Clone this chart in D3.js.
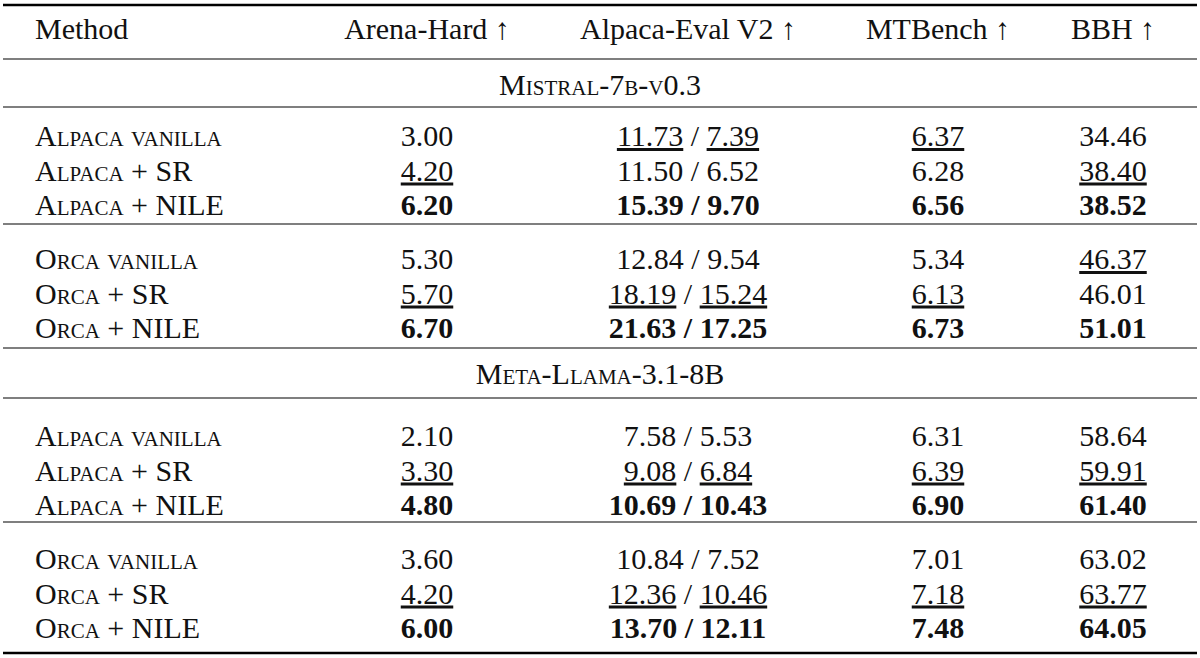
<!DOCTYPE html>
<html><head><meta charset="utf-8">
<script src="https://cdn.jsdelivr.net/npm/d3@7"></script>
<style>body{margin:0;background:#fff}text{font-family:"Liberation Serif","Times New Roman",serif;font-size:30px;fill:#111}</style>
</head><body><svg id="c" width="1200" height="658"></svg>
<script>
const columns = ["Method","Arena-Hard ↑","Alpaca-Eval V2 ↑","MTBench ↑","BBH ↑"];
const groups = ["Mistral-7b-v0.3","Meta-Llama-3.1-8B"];
const methods = ["Alpaca vanilla","Alpaca + SR","Alpaca + NILE","Orca vanilla","Orca + SR","Orca + NILE"];
const mistral = [
 ["3.00","11.73","7.39","6.37","34.46"],
 ["4.20","11.50","6.52","6.28","38.40"],
 ["6.20","15.39","9.70","6.56","38.52"],
 ["5.30","12.84","9.54","5.34","46.37"],
 ["5.70","18.19","15.24","6.13","46.01"],
 ["6.70","21.63","17.25","6.73","51.01"]];
const llama = [
 ["2.10","7.58","5.53","6.31","58.64"],
 ["3.30","9.08","6.84","6.39","59.91"],
 ["4.80","10.69","10.43","6.90","61.40"],
 ["3.60","10.84","7.52","7.01","63.02"],
 ["4.20","12.36","10.46","7.18","63.77"],
 ["6.00","13.70","12.11","7.48","64.05"]];
const mistralStyle = [
 ["","u","u","u",""],["u","","","","u"],["b","b","b","b","b"],
 ["","","","","u"],["u","u","u","u",""],["b","b","b","b","b"]];
const llamaStyle = [
 ["","","","",""],["u","u","u","u","u"],["b","b","b","b","b"],
 ["","","","",""],["u","u","u","u","u"],["b","b","b","b","b"]];

const svg = d3.select("#c");
const x = d3.scaleOrdinal().domain(columns).range([35,427,688,938,1113]);
const rowY = d3.scaleLinear().domain([0,1,2]).range([0,34.5,69]);
function rule(y,w){svg.append("line").attr("x1",3).attr("x2",1197).attr("y1",y).attr("y2",y).attr("stroke","#000").attr("stroke-width",w);}
rule(5,2.5);
columns.forEach((c,i)=>svg.append("text").attr("x",x(c)).attr("y",39).attr("text-anchor",i?"middle":"start").text(c));
rule(59,1.2);
const blocks=[[groups[0],mistral,mistralStyle,85,107,146,224,269],[groups[1],llama,llamaStyle,374,398,446,522,569]];
function styl(t,s){ if(s==="b")t.style("font-weight","bold"); if(s==="u")t.style("text-decoration","underline");}
blocks.forEach(([g,vals,sty,gy,r1,y0,r2,y1])=>{
  svg.append("text").attr("x",600).attr("y",gy+10).attr("text-anchor","middle").style("font-variant","small-caps").text(g);
  rule(r1,1.2);
  vals.forEach((row,i)=>{
    const base=(i<3?y0:y1)+rowY(i%3);
    svg.append("text").attr("x",x(columns[0])).attr("y",base).style("font-variant","small-caps").text(methods[i]);
    styl(svg.append("text").attr("x",x(columns[1])).attr("y",base).attr("text-anchor","middle").text(row[0]),sty[i][0]);
    const t=svg.append("text").attr("x",x(columns[2])).attr("y",base).attr("text-anchor","middle");
    styl(t.append("tspan").text(row[1]),sty[i][1]);
    const sl=t.append("tspan").text(" / "); if(sty[i][1]==="b")sl.style("font-weight","bold");
    styl(t.append("tspan").text(row[2]),sty[i][2]);
    styl(svg.append("text").attr("x",x(columns[3])).attr("y",base).attr("text-anchor","middle").text(row[3]),sty[i][3]);
    styl(svg.append("text").attr("x",x(columns[4])).attr("y",base).attr("text-anchor","middle").text(row[4]),sty[i][4]);
  });
  rule(r2,1.2);
  if(r2===224) rule(348,1.2);
});
rule(653,2.5);
</script></body></html>
